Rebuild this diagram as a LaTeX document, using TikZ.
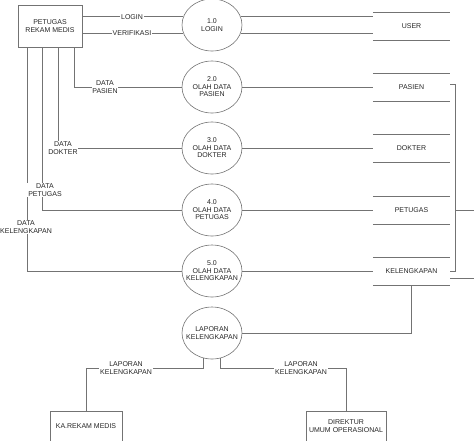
\documentclass[tikz,border=0pt]{standalone}
\usepackage{fontspec}
\setmainfont{Liberation Sans}
\usetikzlibrary{shapes.geometric}

\begin{document}
\begin{tikzpicture}[x=1pt, y=-1pt,
  every node/.style={font=\fontsize{7}{7.5}\selectfont, text=black!85},
  ext/.style={draw=black!55, line width=0.6pt, align=center, inner sep=0pt},
  proc/.style={draw=black!55, line width=0.6pt, shape=ellipse, minimum width=60pt, minimum height=52pt, inner sep=-20pt, align=center},
  store/.style={minimum width=77pt, minimum height=28pt, inner sep=0pt},
  flow/.style={draw=black!55, line width=0.6pt},
  lab/.style={fill=white, inner sep=0.8pt, align=center}]

\useasboundingbox (0,0) rectangle (474,440);

\node[ext, minimum width=64pt, minimum height=42pt] (e1) at (50,26) {PETUGAS\\REKAM MEDIS};
\node[ext, minimum width=72pt, minimum height=30pt] (e2) at (86,426) {KA.REKAM MEDIS};
\node[ext, minimum width=80pt, minimum height=30pt] (e3) at (346,426) {DIREKTUR\\UMUM OPERASIONAL};

\node[proc] (p1) at (212,25) {1.0\\LOGIN};
\node[proc] (p2) at (212,87) {2.0\\OLAH DATA\\PASIEN};
\node[proc] (p3) at (212,148) {3.0\\OLAH DATA\\DOKTER};
\node[proc] (p4) at (212,210) {4.0\\OLAH DATA\\PETUGAS};
\node[proc] (p5) at (212,271) {5.0\\OLAH DATA\\KELENGKAPAN};
\node[proc] (p6) at (212,333) {LAPORAN\\KELENGKAPAN};

\node[store] (s1) at (411.5,26) {USER};
\node[store] (s2) at (411.5,87) {PASIEN};
\node[store] (s3) at (411.5,148) {DOKTER};
\node[store] (s4) at (411.5,210) {PETUGAS};
\node[store] (s5) at (411.5,271) {KELENGKAPAN};

\foreach \i in {1,...,5} {
  \draw[flow] (s\i.north west) -- (s\i.north east);
  \draw[flow] (s\i.south west) -- (s\i.south east);
}

\draw[flow] (p1.164) -- (p1.164 -| e1.east);
\draw[flow] (p1.196) -- (p1.196 -| e1.east);
\draw[flow] (p1.16) -- (p1.16 -| s1.west);
\draw[flow] (p1.-16) -- (p1.-16 -| s1.west);

\draw[flow] ([xshift=24pt]e1.south) |- (p2);
\draw[flow] ([xshift=8pt]e1.south) |- (p3);
\draw[flow] ([xshift=-8pt]e1.south) |- (p4);
\draw[flow] ([xshift=-23pt]e1.south) |- (p5);

\draw[flow] (p2) -- (s2);
\draw[flow] (p3) -- (s3);
\draw[flow] (p4) -- (s4);
\draw[flow] (p5) -- (s5);

\draw[flow] ([yshift=3pt]s2.east) -- ++(5,0) |- (s5.east);
\draw[flow] ([xshift=5pt]s4.east) -- ([xshift=24pt]s4.east);
\draw[flow] ([yshift=-7pt]s5.east) -- ++(24,0);
\draw[flow] (s5.south) |- (p6);

\draw[flow] (p6.250) -- ++(0,10) -| (e2);
\draw[flow] (p6.288) -- ++(0,10) -| (e3);

\node[lab] (l1) at (132,17) {LOGIN};
\node[lab] (l2) at (132,33) {VERIFIKASI};
\node[lab] (l3) at (105,87) {DATA\\PASIEN};
\node[lab] (l4) at (63,148) {DATA\\DOKTER};
\node[lab] (l5) at (45,190) {DATA\\PETUGAS};
\node[lab] (l6) at (26,227) {DATA\\KELENGKAPAN};
\node[lab] (l7) at (126,368) {LAPORAN\\KELENGKAPAN};
\node[lab] (l8) at (301,368) {LAPORAN\\KELENGKAPAN};

\end{tikzpicture}
\end{document}
